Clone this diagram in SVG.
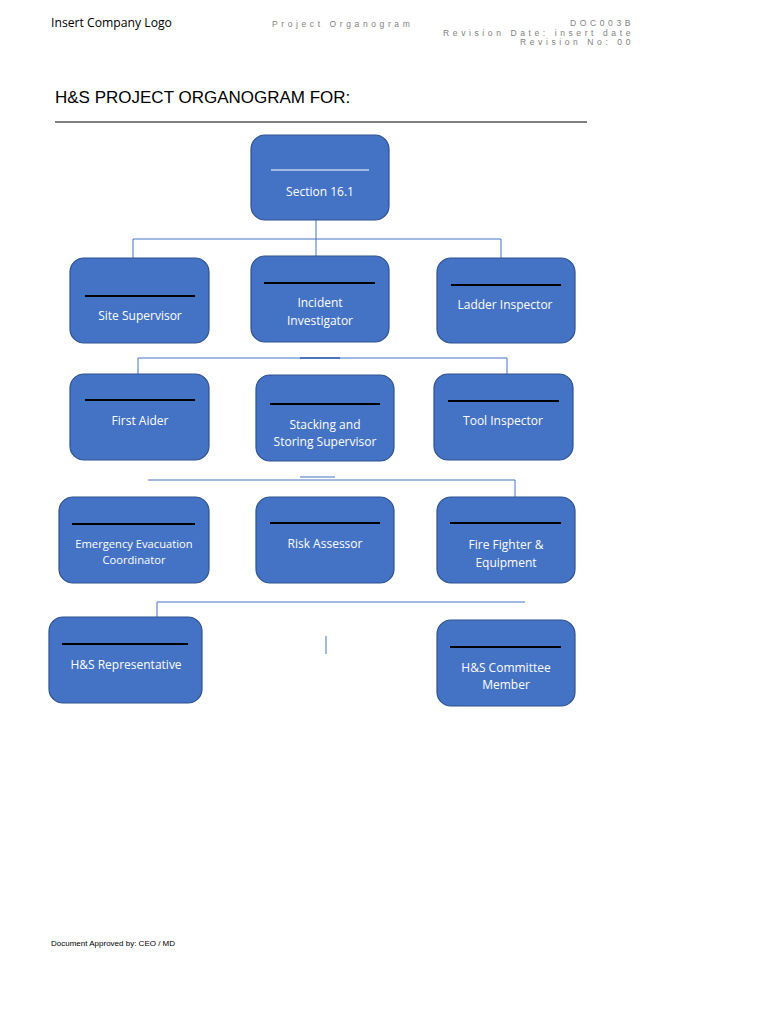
<svg xmlns="http://www.w3.org/2000/svg" width="768" height="1024" viewBox="0 0 768 1024">
<defs>
<style>
.box{fill:#4472C4;stroke:#2F528F;stroke-width:1.2}
.bar{stroke:#000;stroke-width:2}
.wbar{stroke:#fff;stroke-width:1.2}
.lbl{font-family:"Open Sans","Noto Sans","Liberation Sans",sans-serif;font-size:12px;fill:#fff;text-anchor:middle}
.sm{font-size:11.2px}
.con{stroke:#4472C4;stroke-width:1;fill:none}
.hdr{font-family:"Liberation Sans",Arial,sans-serif;font-size:8.5px;fill:#7f7f7f;letter-spacing:3.6px}
</style>
</defs>
<rect width="768" height="1024" fill="#fff"/>
<g id="header">
<text x="51" y="27" font-family="'Open Sans','Noto Sans',sans-serif" font-size="12.2" fill="#000">Insert Company Logo</text>
<text x="272" y="27" class="hdr">Project Organogram</text>
<text x="634" y="26" class="hdr" text-anchor="end">DOC003B</text>
<text x="634" y="36" class="hdr" text-anchor="end">Revision Date: insert date</text>
<text x="634" y="45" class="hdr" text-anchor="end">Revision No: 00</text>
<text x="55" y="103" font-family="'Liberation Sans',Arial,sans-serif" font-size="17" fill="#000">H&amp;S PROJECT ORGANOGRAM FOR:</text>
<line x1="55" y1="122" x2="587" y2="122" stroke="#000" stroke-width="1"/>
</g>
<g id="connectors">
<path class="con" d="M316 220V256M133 258V239H501V258"/>
<path class="con" d="M138 374V358H507V374"/>
<line x1="300" y1="358" x2="340" y2="358" stroke="#2F5FB0" stroke-width="1.5"/>
<path class="con" d="M148 480H515V497"/>
<line x1="300" y1="477" x2="335" y2="477" class="con"/>
<path class="con" d="M157 617V602H525"/>
<line x1="326" y1="636" x2="326" y2="654" class="con"/>
</g>
<g id="n-section">
<rect class="box" x="251" y="135" width="138" height="85" rx="14"/>
<line class="wbar" x1="271" y1="170" x2="369" y2="170"/>
<text class="lbl" x="320" y="196">Section 16.1</text>
</g>
<g id="n-site">
<rect class="box" x="70" y="258" width="139" height="85" rx="14"/>
<line class="bar" x1="85" y1="296" x2="195" y2="296"/>
<text class="lbl" x="140" y="320">Site Supervisor</text>
</g>
<g id="n-incident">
<rect class="box" x="251" y="256" width="138" height="86" rx="14"/>
<line class="bar" x1="264" y1="283" x2="375" y2="283"/>
<text class="lbl" x="320" y="307">Incident</text>
<text class="lbl" x="320" y="325">Investigator</text>
</g>
<g id="n-ladder">
<rect class="box" x="437" y="258" width="138" height="85" rx="14"/>
<line class="bar" x1="451" y1="285" x2="561" y2="285"/>
<text class="lbl" x="505" y="309">Ladder Inspector</text>
</g>
<g id="n-firstaider">
<rect class="box" x="70" y="374" width="139" height="86" rx="14"/>
<line class="bar" x1="85" y1="400" x2="195" y2="400"/>
<text class="lbl" x="140" y="425">First Aider</text>
</g>
<g id="n-stacking">
<rect class="box" x="256" y="375" width="138" height="86" rx="14"/>
<line class="bar" x1="270" y1="404" x2="380" y2="404"/>
<text class="lbl" x="325" y="429">Stacking and</text>
<text class="lbl" x="325" y="446">Storing Supervisor</text>
</g>
<g id="n-tool">
<rect class="box" x="434" y="374" width="139" height="86" rx="14"/>
<line class="bar" x1="448" y1="401" x2="559" y2="401"/>
<text class="lbl" x="503" y="425">Tool Inspector</text>
</g>
<g id="n-emergency">
<rect class="box" x="59" y="497" width="150" height="86" rx="14"/>
<line class="bar" x1="72" y1="524" x2="195" y2="524"/>
<text class="lbl sm" x="134" y="548">Emergency Evacuation</text>
<text class="lbl sm" x="134" y="564">Coordinator</text>
</g>
<g id="n-risk">
<rect class="box" x="256" y="497" width="138" height="86" rx="14"/>
<line class="bar" x1="270" y1="523" x2="380" y2="523"/>
<text class="lbl" x="325" y="548">Risk Assessor</text>
</g>
<g id="n-fire">
<rect class="box" x="437" y="497" width="138" height="86" rx="14"/>
<line class="bar" x1="450" y1="523" x2="561" y2="523"/>
<text class="lbl" x="506" y="549">Fire Fighter &amp;</text>
<text class="lbl" x="506" y="567">Equipment</text>
</g>
<g id="n-rep">
<rect class="box" x="49" y="617" width="153" height="86" rx="14"/>
<line class="bar" x1="62" y1="644" x2="188" y2="644"/>
<text class="lbl" x="126" y="669">H&amp;S Representative</text>
</g>
<g id="n-committee">
<rect class="box" x="437" y="620" width="138" height="86" rx="14"/>
<line class="bar" x1="450" y1="647" x2="561" y2="647"/>
<text class="lbl" x="506" y="672">H&amp;S Committee</text>
<text class="lbl" x="506" y="689">Member</text>
</g>
<g id="footer">
<text x="51" y="946" font-family="'Liberation Sans',Arial,sans-serif" font-size="8" fill="#000">Document Approved by: CEO / MD</text>
</g>
</svg>
